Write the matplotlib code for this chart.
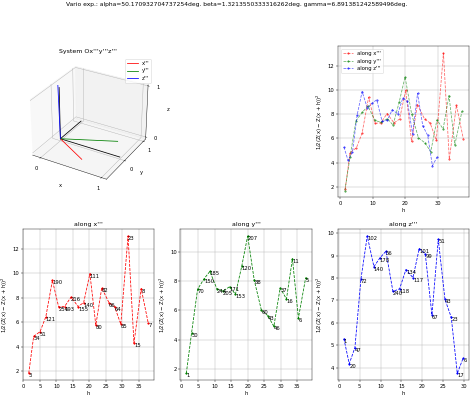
import matplotlib
matplotlib.use("Agg")
import matplotlib.pyplot as plt
from mpl_toolkits.mplot3d import Axes3D

# rotated frame (unit vectors of x''', y''', z''')
x3 = [0.64, -0.76, 0.12]
y3 = [0.76, 0.64, -0.02]
z3 = [-0.06, 0.10, 0.99]

# experimental variogram along x'''
h_x = [1.6, 3.1, 5.05, 6.8, 8.8, 10.7, 12.5, 14.5, 16.6, 18.3, 20.2, 22.0, 23.8, 26.0, 27.7, 29.6, 31.8, 33.6, 35.8, 37.9]
v_x = [1.8, 4.83, 5.22, 6.44, 9.42, 7.25, 7.28, 8.06, 7.28, 7.6, 9.97, 5.75, 8.8, 7.6, 7.28, 5.83, 13.06, 4.28, 8.75, 5.97]
n_x = [3, 34, 51, 121, 190, 254, 193, 216, 155, 140, 111, 80, 82, 66, 64, 85, 23, 15, 8, 7]

# along y'''
h_y = [1.5, 3.1, 4.9, 6.9, 8.6, 10.7, 12.6, 14.6, 16.3, 18.2, 20.0, 22.0, 24.1, 26.1, 27.9, 29.8, 31.7, 33.5, 35.3, 37.5]
v_y = [1.68, 4.48, 7.45, 8.18, 8.67, 7.49, 7.33, 7.63, 7.1, 9.01, 11.1, 8.05, 6.05, 5.63, 4.9, 7.54, 6.78, 9.54, 5.47, 8.25]
n_y = [1, 30, 70, 150, 185, 244, 205, 171, 153, 120, 207, 88, 60, 43, 46, 37, 16, 11, 6, 5]

# along z'''
h_z = [1.2, 2.48, 3.84, 5.28, 6.8, 8.4, 9.84, 11.28, 12.96, 14.56, 16.08, 17.76, 19.28, 20.72, 22.32, 23.84, 25.44, 26.96, 28.4, 29.84]
v_z = [5.29, 4.17, 4.89, 7.95, 9.88, 8.51, 8.9, 9.2, 7.4, 7.52, 8.38, 8.02, 9.32, 9.08, 6.35, 9.73, 7.05, 6.24, 3.74, 4.44]
n_z = [1, 20, 47, 72, 102, 140, 178, 56, 240, 118, 134, 117, 101, 99, 67, 51, 43, 23, 17, 6]

ylab = '1/2(Z(x) \u2212 Z(x + h))$^2$'

fig = plt.figure(figsize=(12.64, 10.64), dpi=37.5)
fig.subplots_adjust(left=0.048, right=0.99, bottom=0.047, top=0.884, wspace=0.2, hspace=0.21)
fig.suptitle("Vario exp.: alpha=50.170932704737254deg. beta=1.3213550333316262deg. gamma=6.891381242589496deg.",
             y=0.995, fontsize=11.5)

# 3d system
ax = fig.add_subplot(2, 3, 1, projection='3d')
ax.plot([0, 1], [0, 0], [0, 0], 'k')
ax.plot([0, 0], [0, 1], [0, 0], 'k')
ax.plot([0, 0], [0, 0], [0, 1], 'k')
ax.plot([0, x3[0]], [0, x3[1]], [0, x3[2]], 'r', label="x'''")
ax.plot([0, y3[0]], [0, y3[1]], [0, y3[2]], 'g', label="y'''")
ax.plot([0, z3[0]], [0, z3[1]], [0, z3[2]], 'b', label="z'''")
ax.set_xticks([0, 1])
ax.set_yticks([0, 1])
ax.set_zticks([0, 1])
ax.set_xlabel('x')
ax.set_ylabel('y')
ax.set_zlabel('z')
ax.set_title("System Ox'''y'''z'''")
ax.legend(loc='upper right')

# all directions together
ax = fig.add_subplot(2, 3, 3)
ax.plot(h_x, v_x, 'r.--', alpha=0.6, label="along x'''")
ax.plot(h_y, v_y, 'g.--', alpha=0.6, label="along y'''")
ax.plot(h_z, v_z, 'b.--', alpha=0.6, label="along z'''")
ax.set_xlabel('h')
ax.set_ylabel(ylab)
ax.grid()
ax.legend(loc='upper left')

# one plot per direction, with pair counts
series = [(h_x, v_x, n_x, 'r', "along x'''"),
          (h_y, v_y, n_y, 'g', "along y'''"),
          (h_z, v_z, n_z, 'b', "along z'''")]
for i, (h, v, n, c, t) in enumerate(series):
    ax = fig.add_subplot(2, 3, 4 + i)
    ax.plot(h, v, c + '.--')
    for hh, vv, nn in zip(h, v, n):
        ax.text(hh, vv, str(nn), va='top')
    ax.set_title(t)
    ax.set_xlabel('h')
    ax.set_ylabel(ylab)
    ax.grid()

fig.savefig('out.png', dpi=37.5)
